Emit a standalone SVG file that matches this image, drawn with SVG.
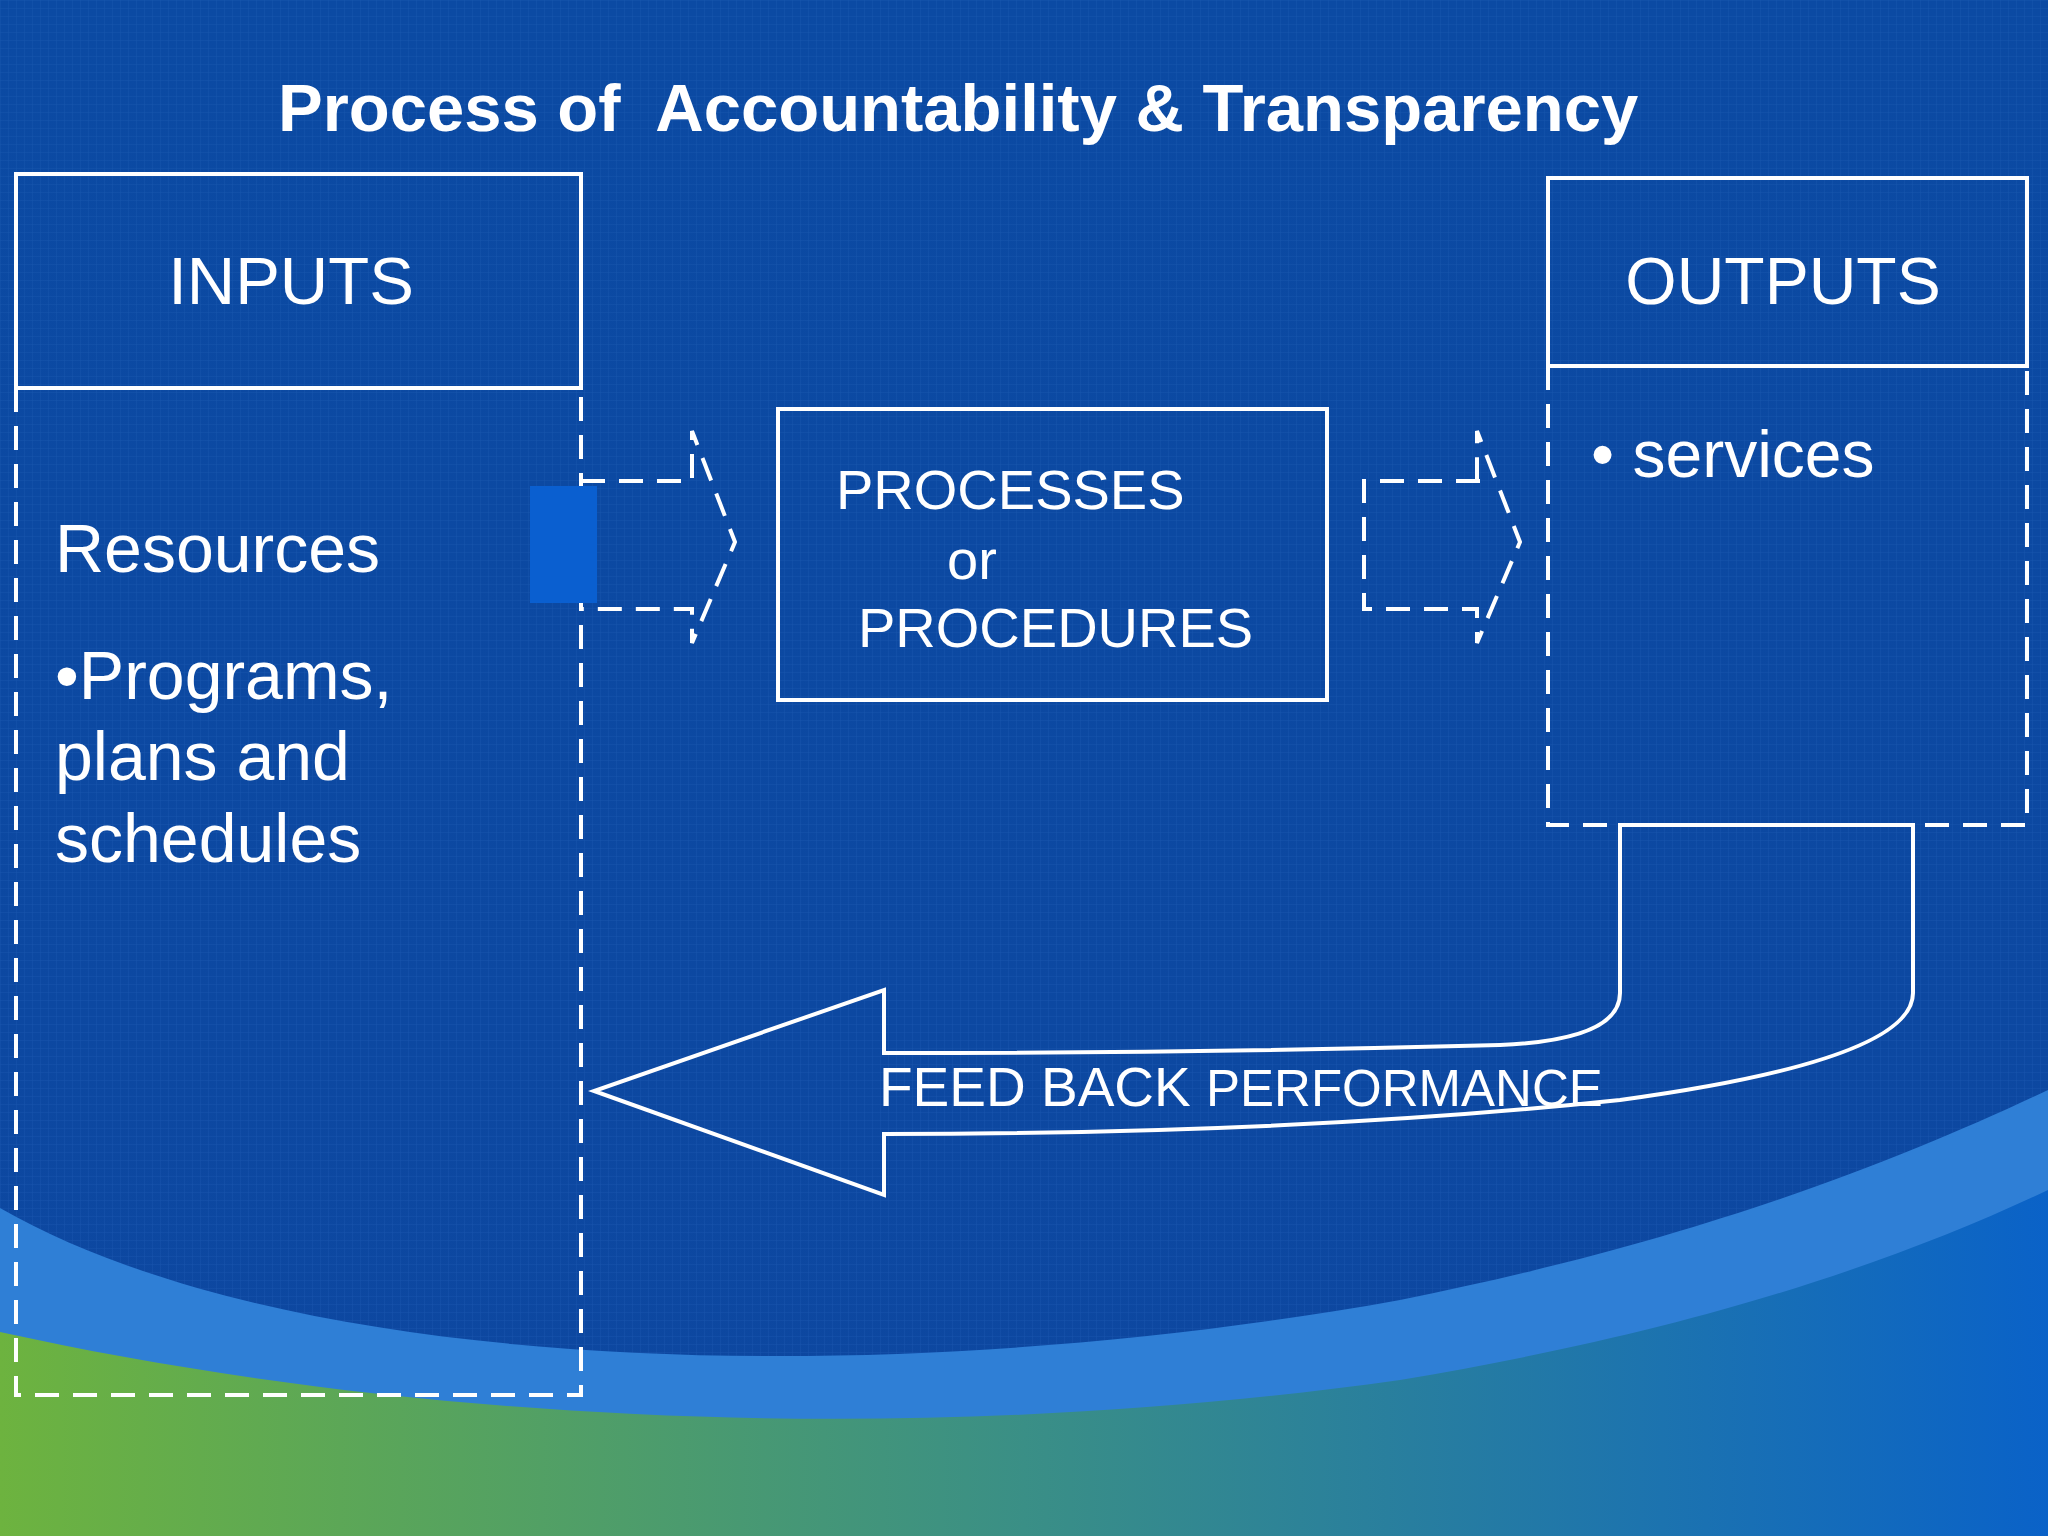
<svg xmlns="http://www.w3.org/2000/svg" width="2048" height="1536" viewBox="0 0 2048 1536">
<defs>
<linearGradient id="bg" x1="0" y1="0" x2="0" y2="1"><stop offset="0" stop-color="#0b4aa3"/><stop offset="1" stop-color="#0d47a0"/></linearGradient>
<linearGradient id="gr" x1="0" y1="0" x2="1" y2="0"><stop offset="0" stop-color="#6db33f"/><stop offset="0.5" stop-color="#3a8f86"/><stop offset="1" stop-color="#0a62c8"/></linearGradient>
<pattern id="grid" width="8" height="8" patternUnits="userSpaceOnUse"><path d="M0 0H8M0 0V8" stroke="#2a6cc0" stroke-width="1" opacity="0.35"/></pattern>
</defs>
<style>
.t{font-family:"Liberation Sans",Arial,sans-serif;fill:#fff}
.s{fill:none;stroke:#fff;stroke-width:4}
.d{fill:none;stroke:#fff;stroke-width:4;stroke-dasharray:24 14}
</style>
<rect width="2048" height="1536" fill="url(#bg)"/>
<rect width="2048" height="1536" fill="url(#grid)"/>
<path d="M0 1208 C300 1380 900 1390 1400 1300 C1700 1240 1900 1160 2048 1090 L2048 1536 L0 1536 Z" fill="#2f7fd6"/>
<path d="M0 1332 C400 1420 900 1450 1400 1380 C1700 1330 1900 1260 2048 1190 L2048 1536 L0 1536 Z" fill="url(#gr)"/>
<text class="t" x="278" y="131" font-size="67" font-weight="bold" xml:space="preserve">Process of  Accountability &amp; Transparency</text>
<g id="inputs">
<rect class="s" x="16" y="174" width="565" height="214"/>
<path class="d" d="M16 388 V1395 H581 V388"/>
<text class="t" x="291" y="304" font-size="67" text-anchor="middle">INPUTS</text>
<text class="t" x="55" y="572" font-size="68">Resources</text>
<text class="t" x="55" y="699" font-size="68">•Programs,</text>
<text class="t" x="55" y="780" font-size="68">plans and</text>
<text class="t" x="55" y="862" font-size="68">schedules</text>
<rect x="530" y="486" width="67" height="117" fill="#0a5fd0"/>
</g>
<g id="processes">
<rect class="s" x="778" y="409" width="549" height="291"/>
<text class="t" x="836" y="509" font-size="56">PROCESSES</text>
<text class="t" x="947" y="579" font-size="56">or</text>
<text class="t" x="858" y="647" font-size="56">PROCEDURES</text>
</g>
<g id="outputs">
<rect class="s" x="1548" y="178" width="479" height="188"/>
<path class="d" d="M1548 366 V825 H2027 V366"/>
<text class="t" x="1783" y="304" font-size="66" text-anchor="middle">OUTPUTS</text>
<text class="t" x="1591" y="477" font-size="66">• services</text>
</g>
<g id="connectors">
<path class="d" d="M581 481 H692 V431 L735 542 L692 643 V609 H581"/>
<path class="d" d="M1480 481 H1364 V609 H1477 V643 L1520 542 L1477 431 V481"/>
<path class="s" stroke-width="5" d="M1620 825 V993 Q1620 1040 1500 1045 Q1200 1053 884 1053 V990 L594 1091 L884 1195 V1134 Q1300 1134 1620 1100 Q1913 1060 1913 993 V825 Z"/>
<text class="t" x="879" y="1106" font-size="55">FEED BACK <tspan font-size="51">PERFORMANCE</tspan></text>
</g>
</svg>
